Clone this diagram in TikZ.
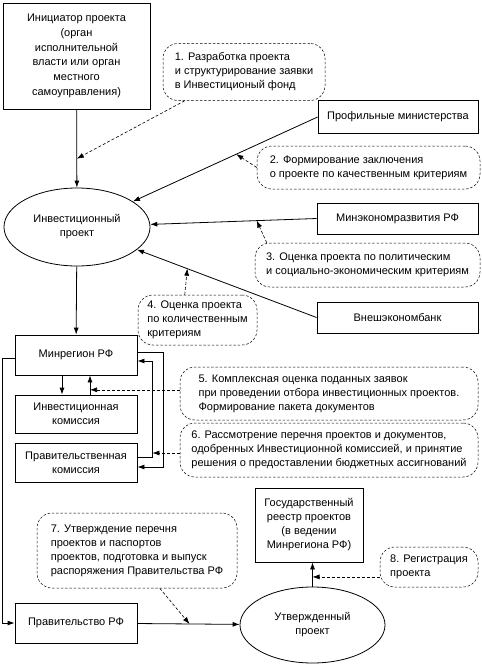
\documentclass[tikz,border=0pt]{standalone}
\usepackage{fontspec}
\setmainfont{Liberation Sans}
\usetikzlibrary{shapes,arrows.meta,positioning,calc}

\begin{document}
\begin{tikzpicture}[x=1pt,y=-1pt,
        font=\fontsize{11}{14}\selectfont,
        box/.style={draw, line width=0.8pt, align=center, inner sep=1pt},
        oval/.style={draw, ellipse, line width=0.8pt, align=center, inner sep=0pt},
        note/.style={draw, line width=0.5pt, dash pattern=on 2.5pt off 1.8pt,
            rounded corners=15pt, align=left, inner sep=1pt},
        arr/.style={line width=0.8pt, -{Latex[length=7pt,width=5pt]}},
        darr/.style={line width=0.6pt, dash pattern=on 3pt off 2pt,
            -{Latex[length=7pt,width=5pt]}}]
            \useasboundingbox (0,0) rectangle (482,665);
            % Participants
            \node[box, minimum width=147pt, minimum height=106pt,
                font=\fontsize{11}{14.7}\selectfont] (init) at (76.5,56)
                {Инициатор проекта\\(орган\\исполнительной\\власти или орган\\местного\\самоуправления)};
            \node[box, minimum width=160pt, minimum height=33pt] (prof) at (398,117) {Профильные министерства};
            \node[box, minimum width=161pt, minimum height=31pt] (minek) at (397.5,218.5) {Минэкономразвития РФ};
            \node[box, minimum width=161pt, minimum height=31pt] (vneb) at (397.5,317.5) {Внешэкономбанк};
            \node[oval, minimum width=146pt, minimum height=78pt] (inv) at (77,227) {Инвестиционный\\проект};
            \node[box, minimum width=122pt, minimum height=40pt] (minreg) at (76,355) {Минрегион РФ};
            \node[box, minimum width=122pt, minimum height=38pt] (invkom) at (76,414) {Инвестиционная\\комиссия};
            \node[box, minimum width=122pt, minimum height=39pt] (pravkom) at (76,462.5) {Правительственная\\комиссия};
            \node[box, minimum width=122pt, minimum height=40pt] (prav) at (76,623) {Правительство РФ};
            \node[oval, minimum width=145pt, minimum height=76pt] (utv) at (312.5,625) {Утвержденный\\проект};
            \node[box, minimum width=108pt, minimum height=74pt] (reestr) at (309,525)
                {Государственный\\реестр проектов\\(в ведении\\Минрегиона РФ)};
            % Steps
            \node[note, minimum width=162pt, minimum height=57pt] (note1) at (244,72)
                {1. Разработка проекта\\и структурирование заявки\\в Инвестиционый фонд};
            \node[note, minimum width=223pt, minimum height=43pt] (note2) at (368.5,167.5)
                {2. Формирование заключения\\о проекте по качественным критериям};
            \node[note, minimum width=225pt, minimum height=44pt] (note3) at (367.5,265)
                {3. Оценка проекта по политическим\\и социально-экономическим критериям};
            \node[note, minimum width=119pt, minimum height=50pt] (note4) at (197.5,320)
                {4. Оценка проекта\\по количественным\\критериям};
            \node[note, minimum width=298pt, minimum height=53pt] (note5) at (329,393.5)
                {5. Комплексная оценка поданных заявок\\при проведении отбора инвестиционных проектов.\\Формирование пакета документов};
            \node[note, minimum width=298pt, minimum height=54pt] (note6) at (329,450)
                {6. Рассмотрение перечня проектов и документов,\\одобренных Инвестиционной комиссией, и принятие\\решения о предоставлении бюджетных ассигнований};
            \node[note, minimum width=200pt, minimum height=75pt] (note7) at (137,550.5)
                {7. Утверждение перечня\\проектов и паспортов\\проектов, подготовка и выпуск\\распоряжения Правительства РФ};
            \node[note, minimum width=98pt, minimum height=40pt] (note8) at (429,567)
                {8. Регистрация\\проекта};
            % Flows
            \draw[arr] (init) -- (inv) coordinate[pos=0.63] (c1);
            \draw[arr] (prof.west) -- (inv) coordinate[pos=0.44] (c2);
            \draw[arr] (minek.west) -- (inv) coordinate[pos=0.36] (c3);
            \draw[arr] (vneb.west) -- (inv) coordinate[pos=0.72] (c4);
            \draw[arr] (inv) -- (minreg);
            \draw[arr] ([xshift=-14pt]minreg.south) -- ([xshift=-14pt]invkom.north);
            \draw[arr] ([xshift=14pt]invkom.north) -- ([xshift=14pt]minreg.south) coordinate[pos=0.25] (c5);
            \draw[arr] ([yshift=3pt]minreg.east) -- ++(26,0) |- ([yshift=-4.5pt]pravkom.east);
            \draw[arr] ([yshift=5pt]pravkom.east) -- ++(15,0) coordinate (k6) |- ([yshift=-6pt]minreg.east);
            \draw[arr] ([yshift=-3pt]minreg.west) -- ++(-12,0) |- (prav.west);
            \draw[arr] (prav) -- (utv) coordinate[pos=0.51] (c7);
            \draw[arr] (utv.north) -- (utv.north |- reestr.south) coordinate[pos=0.4] (c8);
            % Step pointers
            \coordinate (d6) at ([yshift=-3pt]note6.west);
            \draw[darr] ($(note1.south west)+(22,0)$) -- (c1);
            \draw[darr] (note2.west) -- (c2);
            \draw[darr] ($(note3.north west)+(12,0)$) -- (c3);
            \draw[darr] ($(note4.north west)+(47,0)$) -- (c4);
            \draw[darr] (note5.west |- c5) -- (c5);
            \draw[darr] (d6) -- (k6 |- d6);
            \draw[darr] ($(note7.south west)+(123,0)$) -- (c7);
            \draw[darr] (note8.west |- c8) -- (c8);
        \end{tikzpicture}
\end{document}
